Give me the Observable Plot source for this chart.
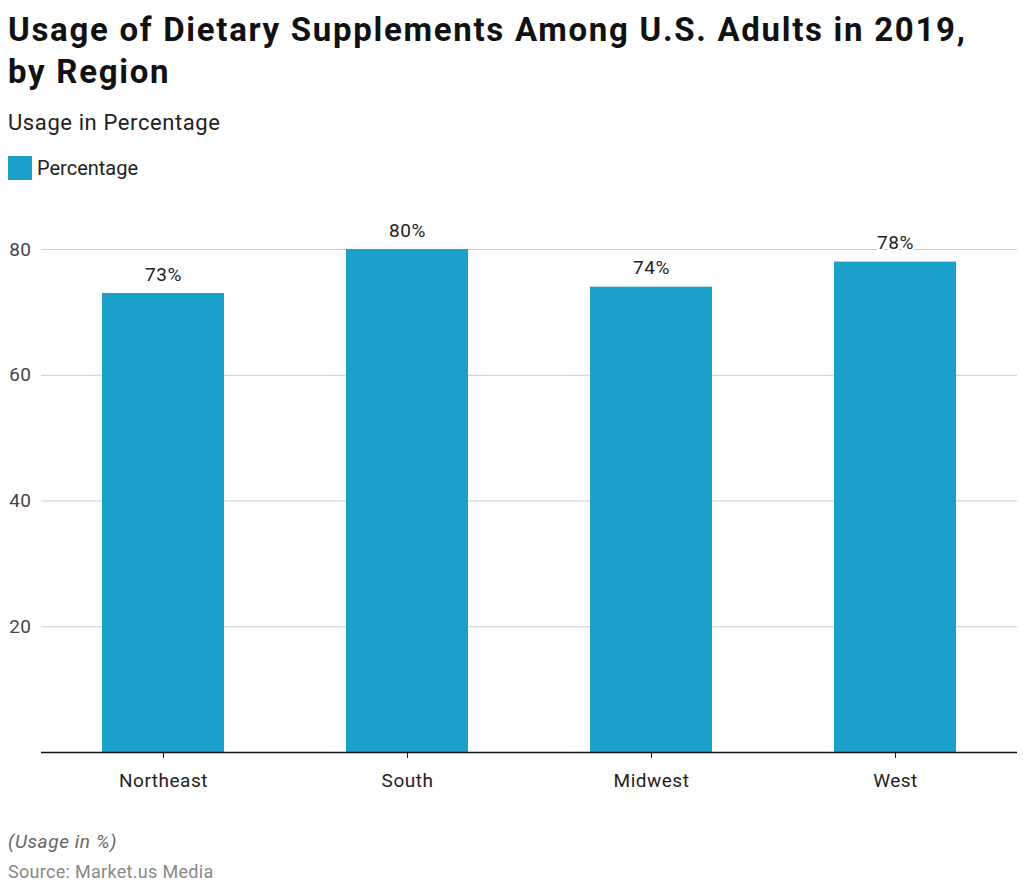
<!DOCTYPE html>
<html><head><meta charset="utf-8">
<script src="https://cdn.jsdelivr.net/npm/d3@7"></script>
<script src="https://cdn.jsdelivr.net/npm/@observablehq/plot@0.6"></script>
<style>
body{margin:0;background:#fff;font-family:Roboto,sans-serif;width:1023px;height:895px;position:relative;overflow:hidden}
.t{position:absolute;left:8px;top:9px;font-size:33px;font-weight:700;line-height:42px;color:#111;letter-spacing:1.7px;white-space:nowrap}
.s{position:absolute;left:8px;top:110px;font-size:22px;color:#222;letter-spacing:0.6px}
.lg{position:absolute;left:8px;top:156px;font-size:20px;color:#222;display:flex;align-items:center}
.sw{width:24px;height:24px;background:#19a1cc;margin-right:5px}
#chart{position:absolute;left:0;top:200px}
.c1{position:absolute;left:8px;top:830px;font-size:19px;font-style:italic;color:#666;letter-spacing:0.6px}
.c2{position:absolute;left:8px;top:861px;font-size:18px;color:#888;letter-spacing:0.3px}
</style></head><body>
<div class="t">Usage of Dietary Supplements Among U.S. Adults in 2019,<br>by Region</div>
<div class="s">Usage in Percentage</div>
<div class="lg"><div class="sw"></div>Percentage</div>
<div id="chart"></div>
<div class="c1">(Usage in %)</div>
<div class="c2">Source: Market.us Media</div>
<script>
const regions = ["Northeast","South","Midwest","West"];
const values = [73,80,74,78];
const yTicks = [20,40,60,80];
const data = regions.map((r,i)=>({region:r,value:values[i]}));
const chart = Plot.plot({
  width:1023, height:600,
  marginTop:49, marginBottom:48, marginLeft:41, marginRight:6,
  style:{fontFamily:"Roboto, sans-serif", fontSize:"18px", color:"#222", background:"transparent", letterSpacing:"0.5px"},
  x:{domain:regions, paddingInner:0.5, paddingOuter:0.25, label:null, tickSize:6},
  y:{domain:[0,80], label:null},
  marks:[
    Plot.gridY(yTicks,{stroke:"#ccc", strokeOpacity:1, strokeWidth:1}),
    Plot.axisY(yTicks,{tickSize:0, tickPadding:10, fontSize:19, fill:"#444", label:null}),
    Plot.barY(data,{x:"region", y:"value", fill:"#19a1cc"}),
    Plot.ruleY([0],{stroke:"#111", strokeWidth:1.5}),
    Plot.axisX({tickSize:6, tickPadding:15, fontSize:19, fill:"#222", stroke:"#111", label:null}),
    Plot.text(data,{x:"region", y:"value", text:d=>d.value+"%", lineAnchor:"bottom", dy:-13, fontSize:19, fill:"#222", stroke:"white", strokeWidth:5})
  ]
});
document.getElementById("chart").appendChild(chart);
</script>
</body></html>
